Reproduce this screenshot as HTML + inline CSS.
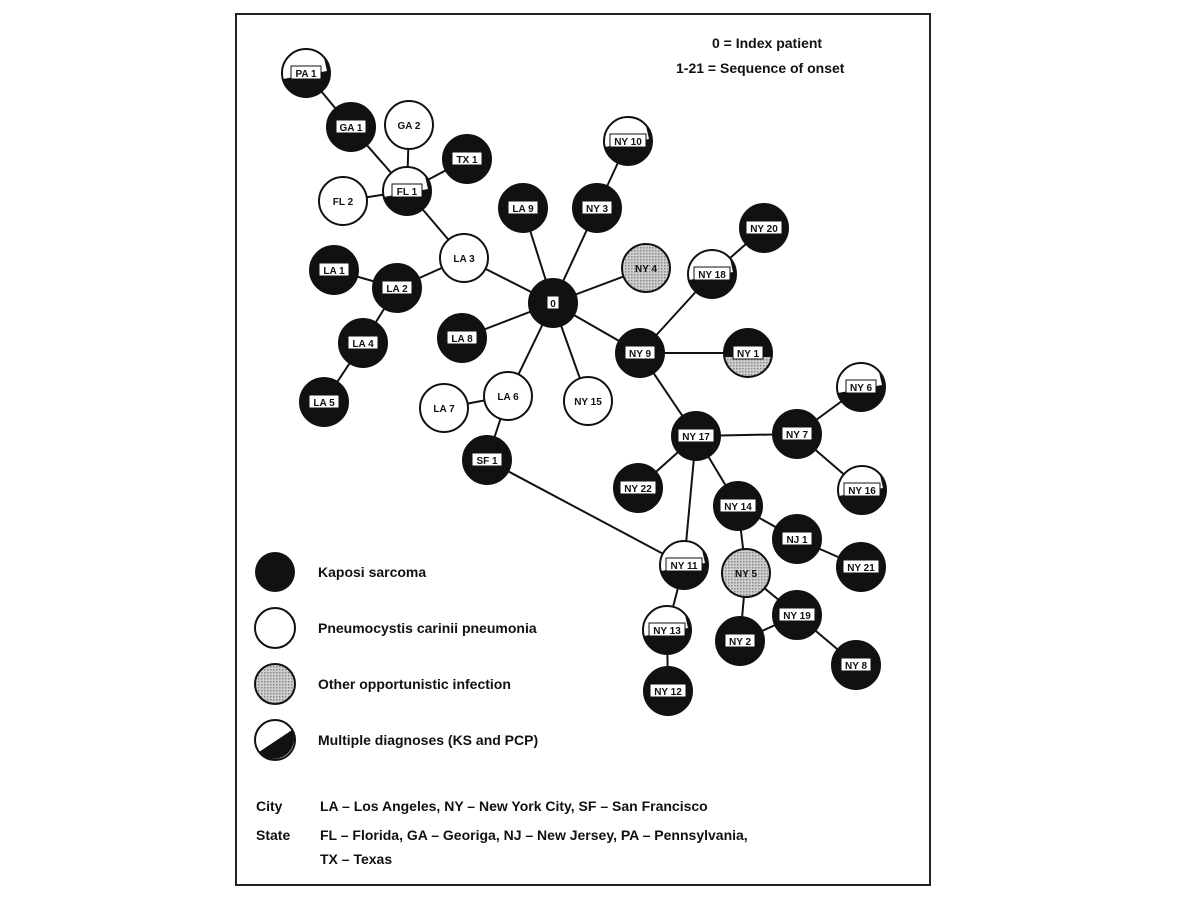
<!DOCTYPE html>
<html><head><style>
body{margin:0;background:#fff;}
svg text{font-family:"Liberation Sans",sans-serif;font-weight:bold;}
</style></head><body>
<svg width="1200" height="895" viewBox="0 0 1200 895" xmlns="http://www.w3.org/2000/svg">
<defs>
<pattern id="dot" width="3" height="3" patternUnits="userSpaceOnUse"><rect width="3" height="3" fill="#cfcfcf"/><rect width="1.5" height="1.5" fill="#888"/></pattern>
<g id="k"><circle r="24" fill="#111" stroke="#111" stroke-width="2"/></g>
<g id="w"><circle r="24" fill="#fff" stroke="#111" stroke-width="2"/></g>
<g id="o"><circle r="24" fill="url(#dot)" stroke="#111" stroke-width="2"/></g>
<g id="m"><circle r="24" fill="#fff"/><path d="M-23.2 6 L21 -2 L17.8 -16 A24 24 0 1 1 -23.2 6Z" fill="#111"/><circle r="24" fill="none" stroke="#111" stroke-width="2"/></g>
<g id="ko"><circle r="24" fill="#111"/><path d="M-23.6 4 L23.6 4 A24 24 0 0 1 -23.6 4Z" fill="url(#dot)"/><circle r="24" fill="none" stroke="#111" stroke-width="2"/></g>
</defs>
<rect x="236" y="14" width="694" height="871" fill="#fff" stroke="#222" stroke-width="2"/>
<g stroke="#111" stroke-width="2">
<line x1="306" y1="73" x2="351" y2="127"/><line x1="351" y1="127" x2="407" y2="191"/>
<line x1="409" y1="125" x2="407" y2="191"/><line x1="467" y1="159" x2="407" y2="191"/>
<line x1="343" y1="201" x2="407" y2="191"/><line x1="407" y1="191" x2="464" y2="258"/>
<line x1="464" y1="258" x2="553" y2="303"/><line x1="464" y1="258" x2="397" y2="288"/>
<line x1="334" y1="270" x2="397" y2="288"/><line x1="397" y1="288" x2="363" y2="343"/>
<line x1="363" y1="343" x2="324" y2="402"/>
<line x1="523" y1="208" x2="553" y2="303"/><line x1="597" y1="208" x2="553" y2="303"/>
<line x1="597" y1="208" x2="628" y2="141"/><line x1="646" y1="268" x2="553" y2="303"/>
<line x1="462" y1="338" x2="553" y2="303"/><line x1="508" y1="396" x2="553" y2="303"/>
<line x1="588" y1="401" x2="553" y2="303"/><line x1="640" y1="353" x2="553" y2="303"/>
<line x1="444" y1="408" x2="508" y2="396"/><line x1="508" y1="396" x2="487" y2="460"/>
<line x1="487" y1="460" x2="684" y2="565"/>
<line x1="640" y1="353" x2="712" y2="274"/><line x1="712" y1="274" x2="764" y2="228"/>
<line x1="640" y1="353" x2="748" y2="353"/><line x1="640" y1="353" x2="696" y2="436"/>
<line x1="696" y1="436" x2="797" y2="434"/><line x1="797" y1="434" x2="861" y2="387"/>
<line x1="797" y1="434" x2="862" y2="490"/><line x1="696" y1="436" x2="638" y2="488"/>
<line x1="696" y1="436" x2="684" y2="565"/><line x1="696" y1="436" x2="738" y2="506"/>
<line x1="738" y1="506" x2="797" y2="539"/><line x1="797" y1="539" x2="861" y2="567"/>
<line x1="738" y1="506" x2="746" y2="573"/><line x1="746" y1="573" x2="740" y2="641"/>
<line x1="746" y1="573" x2="797" y2="615"/><line x1="797" y1="615" x2="740" y2="641"/>
<line x1="797" y1="615" x2="856" y2="665"/><line x1="684" y1="565" x2="667" y2="630"/>
<line x1="667" y1="630" x2="668" y2="691"/>
</g>
<g>
<use href="#m" x="306" y="73"/><use href="#k" x="351" y="127"/><use href="#w" x="409" y="125"/>
<use href="#k" x="467" y="159"/><use href="#m" x="407" y="191"/><use href="#w" x="343" y="201"/>
<use href="#k" x="523" y="208"/><use href="#k" x="597" y="208"/><use href="#m" x="628" y="141"/>
<use href="#w" x="464" y="258"/><use href="#k" x="334" y="270"/><use href="#k" x="397" y="288"/>
<use href="#k" x="764" y="228"/><use href="#o" x="646" y="268"/><use href="#m" x="712" y="274"/>
<use href="#k" x="553" y="303"/><use href="#k" x="462" y="338"/><use href="#k" x="640" y="353"/>
<use href="#ko" x="748" y="353"/><use href="#k" x="363" y="343"/><use href="#k" x="324" y="402"/>
<use href="#w" x="444" y="408"/><use href="#w" x="508" y="396"/><use href="#w" x="588" y="401"/>
<use href="#m" x="861" y="387"/><use href="#k" x="696" y="436"/><use href="#k" x="797" y="434"/>
<use href="#k" x="487" y="460"/><use href="#k" x="638" y="488"/><use href="#m" x="862" y="490"/>
<use href="#k" x="738" y="506"/><use href="#k" x="797" y="539"/><use href="#k" x="861" y="567"/>
<use href="#m" x="684" y="565"/><use href="#o" x="746" y="573"/><use href="#k" x="797" y="615"/>
<use href="#m" x="667" y="630"/><use href="#k" x="740" y="641"/><use href="#k" x="856" y="665"/>
<use href="#k" x="668" y="691"/>
</g>
<g fill="#fff" stroke="#111" stroke-width="1">
<rect x="291" y="66" width="30" height="13"/><rect x="336" y="120" width="30" height="13"/>
<rect x="452" y="152" width="30" height="13"/><rect x="392" y="184" width="30" height="13"/>
<rect x="508" y="201" width="30" height="13"/><rect x="582" y="201" width="30" height="13"/>
<rect x="610" y="134" width="36" height="13"/><rect x="319" y="263" width="30" height="13"/>
<rect x="382" y="281" width="30" height="13"/><rect x="746" y="221" width="36" height="13"/>
<rect x="694" y="267" width="36" height="13"/><rect x="547" y="296" width="12" height="13"/>
<rect x="447" y="331" width="30" height="13"/><rect x="625" y="346" width="30" height="13"/>
<rect x="733" y="346" width="30" height="13"/><rect x="348" y="336" width="30" height="13"/>
<rect x="309" y="395" width="30" height="13"/><rect x="846" y="380" width="30" height="13"/>
<rect x="678" y="429" width="36" height="13"/><rect x="782" y="427" width="30" height="13"/>
<rect x="472" y="453" width="30" height="13"/><rect x="620" y="481" width="36" height="13"/>
<rect x="844" y="483" width="36" height="13"/><rect x="720" y="499" width="36" height="13"/>
<rect x="782" y="532" width="30" height="13"/><rect x="843" y="560" width="36" height="13"/>
<rect x="666" y="558" width="36" height="13"/><rect x="779" y="608" width="36" height="13"/>
<rect x="649" y="623" width="36" height="13"/><rect x="725" y="634" width="30" height="13"/>
<rect x="841" y="658" width="30" height="13"/><rect x="650" y="684" width="36" height="13"/>
</g>
<g font-size="10" text-anchor="middle" fill="#111">
<text x="306" y="77">PA 1</text><text x="351" y="131">GA 1</text><text x="409" y="129">GA 2</text>
<text x="467" y="163">TX 1</text><text x="407" y="195">FL 1</text><text x="343" y="205">FL 2</text>
<text x="523" y="212">LA 9</text><text x="597" y="212">NY 3</text><text x="628" y="145">NY 10</text>
<text x="464" y="262">LA 3</text><text x="334" y="274">LA 1</text><text x="397" y="292">LA 2</text>
<text x="764" y="232">NY 20</text><text x="646" y="272">NY 4</text><text x="712" y="278">NY 18</text>
<text x="553" y="307">0</text><text x="462" y="342">LA 8</text><text x="640" y="357">NY 9</text>
<text x="748" y="357">NY 1</text><text x="363" y="347">LA 4</text><text x="324" y="406">LA 5</text>
<text x="444" y="412">LA 7</text><text x="508" y="400">LA 6</text><text x="588" y="405">NY 15</text>
<text x="861" y="391">NY 6</text><text x="696" y="440">NY 17</text><text x="797" y="438">NY 7</text>
<text x="487" y="464">SF 1</text><text x="638" y="492">NY 22</text><text x="862" y="494">NY 16</text>
<text x="738" y="510">NY 14</text><text x="797" y="543">NJ 1</text><text x="861" y="571">NY 21</text>
<text x="684" y="569">NY 11</text><text x="746" y="577">NY 5</text><text x="797" y="619">NY 19</text>
<text x="667" y="634">NY 13</text><text x="740" y="645">NY 2</text><text x="856" y="669">NY 8</text>
<text x="668" y="695">NY 12</text>
</g>
<circle cx="275" cy="572" r="20" fill="#111"/>
<circle cx="275" cy="628" r="20" fill="#fff" stroke="#111" stroke-width="2"/>
<circle cx="275" cy="684" r="20" fill="url(#dot)" stroke="#111" stroke-width="2"/>
<circle cx="275" cy="740" r="20" fill="#fff"/><path d="M259 752 L292 730 A20 20 0 0 1 259 752Z" fill="#111"/><circle cx="275" cy="740" r="20" fill="none" stroke="#111" stroke-width="2"/>
<g font-size="14" fill="#111">
<text x="318" y="577">Kaposi sarcoma</text>
<text x="318" y="633">Pneumocystis carinii pneumonia</text>
<text x="318" y="689">Other opportunistic infection</text>
<text x="318" y="745">Multiple diagnoses (KS and PCP)</text>
<text x="256" y="811">City</text><text x="320" y="811">LA – Los Angeles, NY – New York City, SF – San Francisco</text>
<text x="256" y="840">State</text><text x="320" y="840">FL – Florida, GA – Georiga, NJ – New Jersey, PA – Pennsylvania,</text>
<text x="320" y="864">TX – Texas</text>
<text x="712" y="48">0 = Index patient</text>
<text x="676" y="73">1-21 = Sequence of onset</text>
</g>
</svg>
</body></html>
